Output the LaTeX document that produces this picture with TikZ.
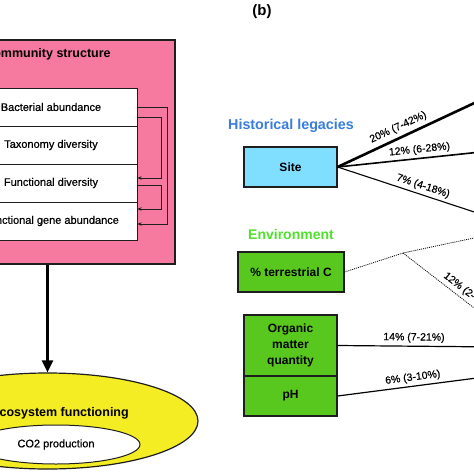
\documentclass[tikz,border=0pt]{standalone}
\usepackage{fontspec}
\setmainfont{Liberation Sans}
\newfontfamily\mediumsans[FakeBold=0.5]{Liberation Sans}
\usetikzlibrary{arrows.meta,shapes.geometric}
\definecolor{cspink}{RGB}{246,122,160}
\definecolor{efyellow}{RGB}{245,237,35}
\definecolor{sitecyan}{RGB}{128,222,255}
\definecolor{envgreen}{RGB}{88,200,30}
\definecolor{histblue}{RGB}{58,125,220}
\definecolor{envtext}{RGB}{80,225,45}
\definecolor{lineblk}{RGB}{30,30,30}

\begin{document}
\begin{tikzpicture}[x=1pt,y=-1pt,
  cbox/.style={draw=lineblk,fill=white,line width=1pt,minimum width=172pt,
        minimum height=38pt,inner sep=0pt,font=\mediumsans\fontsize{11}{13}\selectfont},
  gbox/.style={draw=lineblk,fill=envgreen,line width=1.2pt,minimum width=93pt,
        minimum height=40pt,inner sep=0pt,align=center,font=\bfseries\fontsize{12}{16}\selectfont},
  pct/.style={sloped,above,inner sep=3pt,font=\mediumsans\fontsize{10.5}{12}\selectfont},
  fbarrow/.style={-{Stealth[length=4pt,width=3.5pt]},line width=0.9pt,draw=lineblk}]
  \useasboundingbox (0,0) rectangle (474,474);
  \clip (0,0) rectangle (474,474);
  \fill[white] (0,0) rectangle (474,474);

  % (a) community structure
  \node[draw=lineblk,fill=cspink,line width=1.2pt,minimum width=255pt,
        minimum height=224pt,inner sep=0pt] (cs) at (47.5,152) {};
  \node[font=\bfseries\fontsize{12.5}{15}\selectfont,anchor=base] (cstitle) at (47.5,57) {Community structure};
  \node[cbox] (ba) at (51,107) {Bacterial abundance};
  \node[cbox] (td) at (51,145) {Taxonomy diversity};
  \node[cbox] (fd) at (51,183) {Functional diversity};
  \node[cbox] (fga) at (51,221) {Functional gene abundance};

  % links between the descriptors
  \draw[fbarrow] (ba.east) -- ++(30,0) |- ([yshift=-3pt]fga.east);
  \draw[fbarrow] ([yshift=-10pt]ba.east) -- ++(24,0) |- ([yshift=5pt]fd.east);
  \draw[fbarrow] ([yshift=-2pt]fd.east) -- ++(24,0) |- ([yshift=12pt]fga.east);

  % ecosystem functioning
  \node[ellipse,draw=lineblk,fill=efyellow,line width=1.2pt,minimum width=301pt,
        minimum height=96pt,inner sep=0pt] (eco) at (47.5,421) {};
  \node[font=\bfseries\fontsize{12.5}{15}\selectfont] (ecotitle) at (60,413) {Ecosystem functioning};
  \node[ellipse,draw=lineblk,fill=white,line width=1pt,minimum width=168pt,
        minimum height=39pt,inner sep=0pt,font=\mediumsans\fontsize{11}{13}\selectfont] (co2) at (56,444.5) {CO2 production};
  \draw[-{Triangle[length=12pt,width=11pt]},line width=2.2pt] (cs.south) -- (eco.north);

  % (b) drivers
  \node[font=\bfseries\fontsize{15}{18}\selectfont] (blabel) at (262,12) {(b)};
  \node[text=histblue,font=\bfseries\fontsize{14.3}{17}\selectfont] (hist) at (291,126) {Historical legacies};
  \node[gbox,fill=sitecyan] (site) at (290.5,167) {Site};
  \node[text=envtext,font=\bfseries\fontsize{14}{17}\selectfont] (env) at (291,234) {Environment};
  \node[gbox,minimum width=106pt] (terr) at (291,272) {\% terrestrial C};
  \node[gbox,minimum height=61pt] (omq) at (290.5,345.5) {Organic\\matter\\quantity};
  \node[gbox] (ph) at (290.5,396) {pH};

  % free ends beyond the right edge
  \coordinate (s1) at (500,91);
  \coordinate (s2) at (500,150);
  \coordinate (s3) at (500,220.5);
  \coordinate (jn) at (403,253);
  \coordinate (t1) at (500,232.5);
  \coordinate (t2) at (500,328);
  \coordinate (o1) at (500,347);
  \coordinate (p1) at (500,375);

  % explained variance
  \draw[line width=2.6pt] (site.east) -- (s1) node[pct,pos=0.4,inner sep=4pt] {20\% (7-42\%)};
  \draw[line width=1.6pt] (site.east) -- (s2) node[pct,pos=0.51] {12\% (6-28\%)};
  \draw[line width=1.1pt] (site.east) -- (s3) node[pct,pos=0.51] {7\% (4-18\%)};
  \draw[line width=0.8pt,dash pattern=on 1pt off 1pt] (terr.east) -- (jn) -- (t1);
  \draw[line width=0.8pt,dash pattern=on 1pt off 1pt] (jn) -- (t2)
        node[pct,pos=0.35,anchor=south west] {12\% (2-};
  \draw[line width=1.2pt] (omq.east) -- (o1) node[pct,pos=0.47] {14\% (7-21\%)};
  \draw[line width=1.2pt] (ph.east) -- (p1) node[pct,pos=0.47] {6\% (3-10\%)};
\end{tikzpicture}
\end{document}
